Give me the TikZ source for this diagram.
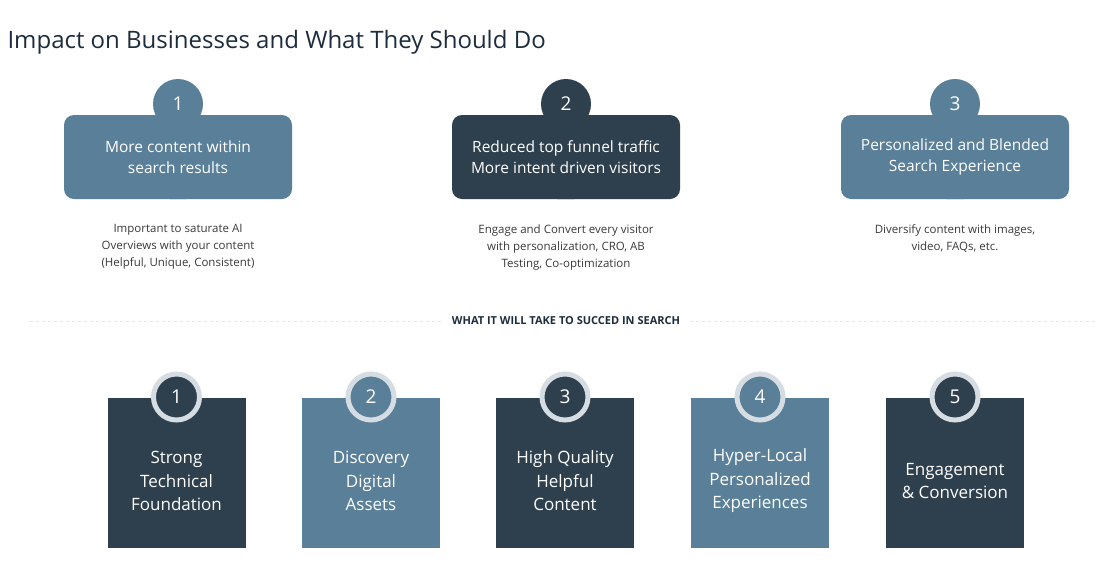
\documentclass[tikz,border=0pt]{standalone}
\usepackage{fontspec}
\setmainfont{Open Sans}
\definecolor{lb}{HTML}{5A7F99}
\definecolor{db}{HTML}{2E3F4E}
\definecolor{ttl}{HTML}{1E2D3D}
\definecolor{txt}{HTML}{3A3A3A}
\definecolor{ring}{HTML}{D5DDE3}
\tikzset{
  callout/.style={rounded corners=10pt, minimum width=228pt, minimum height=84pt, text=white, align=center, font=\fontsize{15.5}{21}\selectfont, inner sep=0pt},
  tnum/.style={circle, minimum size=50pt, inner sep=0pt, text=white, font=\fontsize{19}{19}\selectfont},
  desc/.style={align=center, text=txt, font=\fontsize{11.5}{17}\selectfont, anchor=north},
  card/.style={minimum width=138pt, minimum height=150pt, inner sep=0pt},
  cardtext/.style={text=white, align=center, font=\fontsize{17}{23.5}\selectfont},
  bnum/.style={circle, minimum size=46pt, inner sep=0pt, draw=ring, line width=5pt, text=white, font=\fontsize{19}{19}\selectfont},
}
\begin{document}
\begin{tikzpicture}[x=1pt,y=-1pt]
\useasboundingbox[fill=white] (0,0) rectangle (1105,584);
\node[anchor=west, text=ttl, font=\fontsize{24}{24}\selectfont] (title) at (4,42) {Impact on Businesses and What They Should Do};
\foreach \i/\x/\c/\t/\d in {
 1/178/lb/{More content within\\search results}/{Important to saturate AI\\Overviews with your content\\(Helpful, Unique, Consistent)},
 2/566/db/{Reduced top funnel traffic\\More intent driven visitors}/{Engage and Convert every visitor\\with personalization, CRO, AB\\Testing, Co-optimization},
 3/955/lb/{Personalized and Blended\\Search Experience}/{Diversify content with images,\\video, FAQs, etc.}}{
  \node[tnum, fill=\c] (n\i) at (\x,104) {\i};
  \node[callout, fill=\c] (c\i) at (\x,157) {\t};
  \fill[\c] ([xshift=-9pt]c\i.south) -- ([yshift=14pt]c\i.south) -- ([xshift=9pt]c\i.south) -- cycle;
  \node[desc] (d\i) at (\x,221) {\d};
}
\coordinate (l) at (30,321);
\coordinate (r) at (1095,321);
\draw[ring!70, dashed, line width=0.8pt] (l) -- (r);
\node[fill=white, text=ttl, font=\fontsize{11}{11}\selectfont\bfseries, inner xsep=8pt] (div) at (566,321) {WHAT IT WILL TAKE TO SUCCED IN SEARCH};
\foreach \i/\x/\c/\t in {
 1/176.5/db/{Strong\\Technical\\Foundation},
 2/371/lb/{Discovery\\Digital\\Assets},
 3/565/db/{High Quality\\Helpful\\Content},
 4/760/lb/{Hyper-Local\\Personalized\\Experiences},
 5/955/db/{Engagement\\\& Conversion}}{
  \node[card, fill=\c] (k\i) at (\x,473) {};
  \node[cardtext] (kt\i) at (\x,481) {\t};
  \node[bnum, fill=\c] (m\i) at (\x,397) {\i};
}
\end{tikzpicture}
\end{document}
